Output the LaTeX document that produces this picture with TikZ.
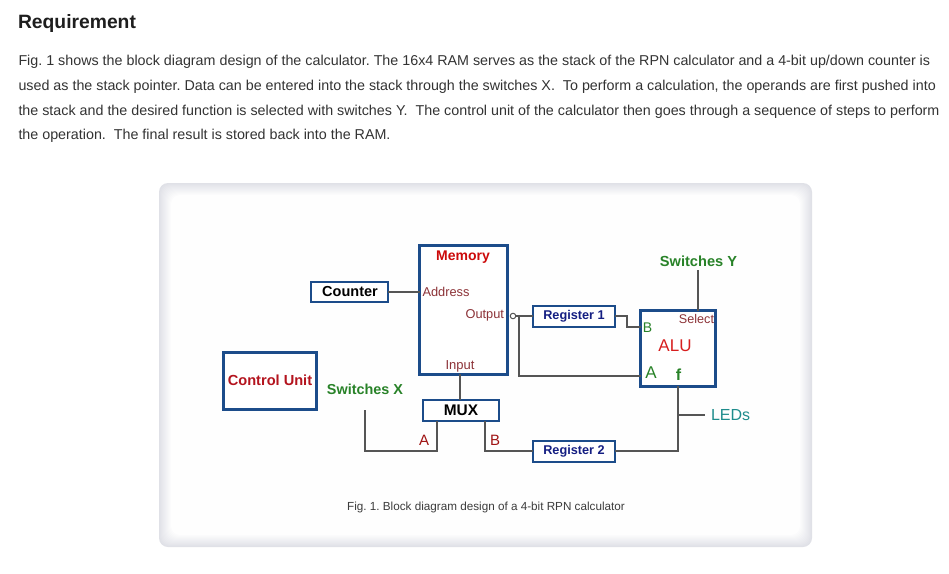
\documentclass[tikz,border=0pt]{standalone}
\usepackage{fontspec}
\setmainfont{Liberation Sans}
\frenchspacing
\definecolor{boxblue}{RGB}{28,76,138}
\definecolor{memred}{RGB}{204,10,10}
\definecolor{cured}{RGB}{180,20,30}
\definecolor{smallred}{RGB}{140,50,55}
\definecolor{swgreen}{RGB}{40,130,40}
\definecolor{navy}{RGB}{20,30,130}
\definecolor{ledteal}{RGB}{30,140,140}
\definecolor{wirecol}{RGB}{85,85,85}
\definecolor{alured}{RGB}{215,30,30}
\definecolor{muxred}{RGB}{160,20,20}
\definecolor{paratext}{RGB}{51,51,51}
\definecolor{headtext}{RGB}{30,30,30}
\definecolor{captext}{RGB}{60,60,60}
\definecolor{panelgray}{RGB}{224,225,231}
\begin{document}
\begin{tikzpicture}[x=1pt,y=-1pt,
  box/.style={draw=boxblue, line width=2pt, fill=white, inner sep=0pt, outer sep=0pt},
  bigbox/.style={box, line width=3.3pt},
  wire/.style={draw=wirecol, line width=2pt},
  lbl/.style={inner sep=0pt, outer sep=0pt},
  para/.style={lbl, anchor=base west, text=paratext, font=\fontsize{14.3}{17}\selectfont},
  bold/.style={lbl, font=\fontsize{#1}{#1}\selectfont\bfseries},
  reg/.style={lbl, font=\fontsize{#1}{#1}\selectfont}]
\useasboundingbox (0,0) rectangle (949,573);
\fill[white] (0,0) rectangle (949,573);
% heading and paragraph
\node[lbl, anchor=base west, text=headtext, font=\fontsize{19.3}{22}\selectfont\bfseries] (head) at (18,28.3) {Requirement};
\node[para] (p1) at (18.5,65) {Fig. 1 shows the block diagram design of the calculator. The 16x4 RAM serves as the stack of the RPN calculator and a 4-bit up/down counter is};
\node[para] (p2) at (18.5,90.3) {used as the stack pointer. Data can be entered into the stack through the switches X.~ To perform a calculation, the operands are first pushed into};
\node[para] (p3) at (18.5,115) {the stack and the desired function is selected with switches Y.~ The control unit of the calculator then goes through a sequence of steps to perform};
\node[para] (p4) at (18.5,139.5) {the operation.~ The final result is stored back into the RAM.};
% panel
\foreach \i in {0,...,12}{
  \pgfmathtruncatemacro\p{100-8*\i}
  \fill[panelgray!\p!white, rounded corners=9pt] (159+\i,183+\i) rectangle (812-\i,547-\i);
}
\fill[white!98!panelgray, rounded corners=4pt] (173,197) rectangle (798,533);
% wire corner points
\coordinate (busT) at (519,316);
\coordinate (busB) at (519,376);
\coordinate (r1k) at (627,316);
\coordinate (r1k2) at (627,327);
\coordinate (swyb) at (698,270);
\coordinate (minx) at (460,0);
\coordinate (ma) at (437,451);
\coordinate (sxe) at (365,410);
\coordinate (mb) at (485,451);
\coordinate (fk) at (678,451);
\coordinate (lj) at (678,415);
% boxes
\node[bigbox, minimum width=87.7, minimum height=128.7] (mem) at (463.5,310) {};
\node[box, minimum width=77, minimum height=20] (counter) at (349.5,292) {};
\node[box, minimum width=82, minimum height=21] (reg1) at (574,316) {};
\node[bigbox, minimum width=74.7, minimum height=75.7] (alu) at (678,348.5) {};
\node[box, minimum width=76, minimum height=21] (mux) at (461,410.5) {};
\node[box, minimum width=82, minimum height=21] (reg2) at (574,451) {};
\node[bigbox, minimum width=92.7, minimum height=56.7] (cu) at (270,381) {};
\node[circle, draw=wirecol, fill=white, line width=1pt, minimum size=5.5pt, inner sep=0pt] (oc) at (513,316) {};
% connectors
\draw[wire] (counter.east) -- (counter.east -| mem.west);
\draw[wire] (oc.east) -- (reg1.west);
\draw[wire] (busT) -- (busB) -- (busB -| alu.west);
\draw[wire] (reg1.east) -- (r1k) -- (r1k2) -- (r1k2 -| alu.west);
\draw[wire] (swyb) -- (swyb |- alu.north);
\draw[wire] (mem.south -| minx) -- (mux.north -| minx);
\draw[wire] (mux.south -| ma) -- (ma) -- (ma -| sxe) -- (sxe);
\draw[wire] (mux.south -| mb) -- (mb) -- (mb -| reg2.west);
\draw[wire] (reg2.east |- fk) -- (fk) -- (fk |- alu.south);
% labels
\node[bold=14, text=memred] (tmem) at (463,257.5) {Memory};
\node[reg=12.8, text=smallred, anchor=west] (taddr) at (422.5,292) {Address};
\node[reg=12.8, text=smallred, anchor=east] (tout) at (504,315.5) {Output};
\node[reg=13, text=smallred] (tin) at (460,366) {Input};
\node[bold=14.5] (tcounter) at (350,292) {Counter};
\node[bold=12.7, text=navy] (treg1) at (574,316) {Register 1};
\node[bold=12.7, text=navy] (treg2) at (574,451) {Register 2};
\node[bold=15.4] (tmux) at (461,410) {MUX};
\node[bold=14.6, text=cured] (tcu) at (270,380) {Control Unit};
\node[bold=14.4, text=swgreen] (tswx) at (365,389.5) {Switches X};
\node[bold=14.6, text=swgreen] (tswy) at (698.5,261) {Switches Y};
\node[reg=12.6, text=smallred, anchor=east] (tsel) at (714,318.5) {Select};
\node[reg=14, text=swgreen] (tb) at (647.5,327.5) {B};
\node[reg=17, text=alured] (talu) at (675,346) {ALU};
\node[reg=17, text=swgreen] (ta) at (651,372.5) {A};
\node[bold=16, text=swgreen] (tf) at (678.5,375) {f};
\node[reg=15, text=muxred] (tma) at (424,440) {A};
\node[reg=15, text=muxred] (tmb) at (495,440) {B};
\node[lbl, inner xsep=6pt, anchor=west, text=ledteal, font=\fontsize{16}{16}\selectfont] (leds) at (705,415) {LEDs};
\draw[wire] (lj) -- (leds.west);
\node[reg=11.7, text=captext] (cap) at (486,507) {Fig. 1. Block diagram design of a 4-bit RPN calculator};
\end{tikzpicture}
\end{document}
